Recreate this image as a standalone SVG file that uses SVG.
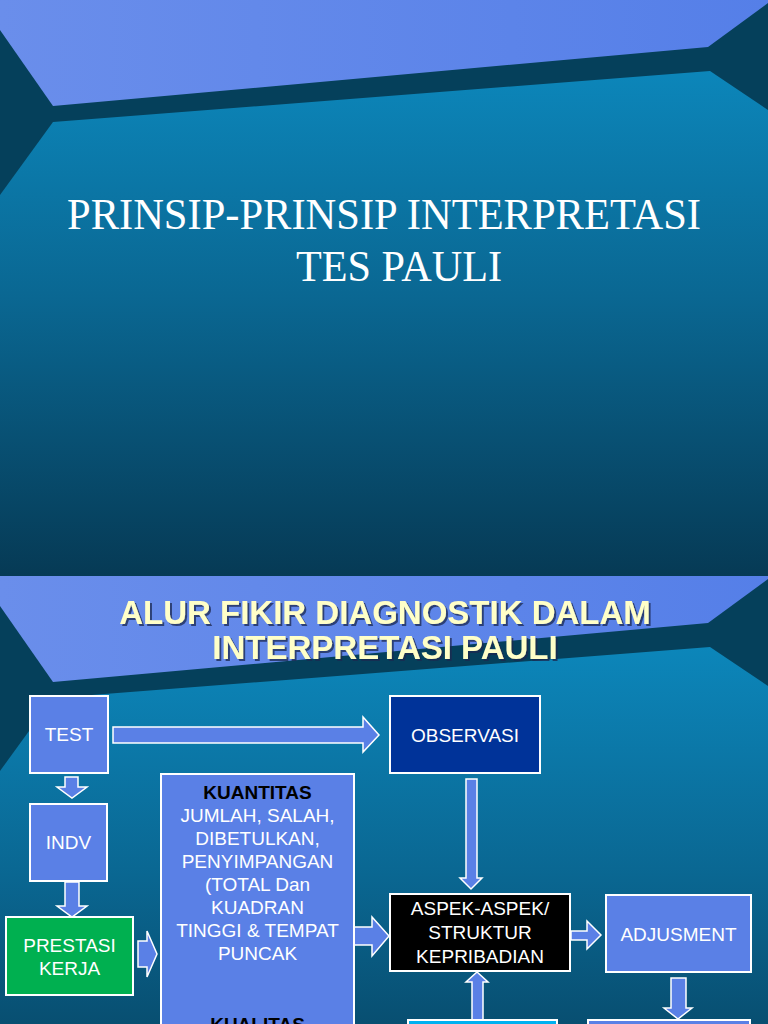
<svg xmlns="http://www.w3.org/2000/svg" width="768" height="1024" viewBox="0 0 768 1024">
<defs>
<linearGradient id="band" x1="0" y1="0" x2="1" y2="0">
<stop offset="0" stop-color="#6A8EEB"/>
<stop offset="1" stop-color="#557FE8"/>
</linearGradient>
<linearGradient id="teal1" gradientUnits="userSpaceOnUse" x1="0" y1="71" x2="0" y2="576">
<stop offset="0" stop-color="#0C86BA"/>
<stop offset="0.45" stop-color="#0A6792"/>
<stop offset="1" stop-color="#063A55"/>
</linearGradient>
<linearGradient id="teal2" gradientUnits="userSpaceOnUse" x1="0" y1="647" x2="0" y2="1152">
<stop offset="0" stop-color="#0C86BA"/>
<stop offset="0.45" stop-color="#0A6792"/>
<stop offset="1" stop-color="#063A55"/>
</linearGradient>
<filter id="shadow" x="-5%" y="-20%" width="110%" height="140%">
<feDropShadow dx="2" dy="2" stdDeviation="0.6" flood-color="#1A2A50" flood-opacity="0.75"/>
</filter>
<style>
.box{stroke:#FFFFFF;stroke-width:2}
.blue{fill:#5A80E6}
.arr{fill:#5A80E6;stroke:#FFFFFF;stroke-width:1.5;stroke-linejoin:miter}
.t{font-family:"Liberation Sans",Arial,sans-serif;font-size:19px;fill:#FFFFFF;text-anchor:middle}
.tb{font-family:"Liberation Sans",Arial,sans-serif;font-size:19px;font-weight:bold;fill:#000000;text-anchor:middle}
.h1{font-family:"Liberation Serif","Times New Roman",serif;font-size:44px;fill:#FFFFFF;text-anchor:middle}
.h2{font-family:"Liberation Sans",Arial,sans-serif;font-size:33px;font-weight:bold;text-anchor:middle;fill:#FFFFC8}
</style>
</defs>
<!-- background -->
<rect x="0" y="0" width="768" height="1024" fill="#05405B"/>
<!-- slide 1 -->
<g id="slide1">
<polygon points="0,0 768,0 768,3 708,47 53,106 0,30" fill="url(#band)"/>
<polygon points="53,122 710,71 768,110 768,576 0,576 0,195" fill="url(#teal1)"/>
<text class="h1" x="384" y="229" textLength="634" lengthAdjust="spacingAndGlyphs">PRINSIP-PRINSIP INTERPRETASI</text>
<text class="h1" x="399" y="281" textLength="206" lengthAdjust="spacingAndGlyphs">TES PAULI</text>
</g>
<!-- slide 2 -->
<g id="slide2">
<polygon points="0,576 768,576 768,579 708,623 53,682 0,606" fill="url(#band)"/>
<polygon points="53,698 710,647 768,686 768,1024 0,1024 0,771" fill="url(#teal2)"/>
<g id="title2" filter="url(#shadow)">
<text class="h2" x="385" y="624">ALUR FIKIR DIAGNOSTIK DALAM</text>
<text class="h2" x="385" y="659">INTERPRETASI PAULI</text>
</g>
</g>
<g id="connectors">
<polygon class="arr" points="113,727 363,727 363,717 379,735 363,752 363,743 113,743"/>
<polygon class="arr" points="65,777 78,777 78,787 87,787 72,798 57,787 65,787"/>
<polygon class="arr" points="65,882 79,882 79,906 87,906 72,917 57,906 65,906"/>
<polygon class="arr" points="138,941 147,941 147,931 157,954 147,977 147,967 138,967"/>
<polygon class="arr" points="354,927 372,927 372,917 389,936 372,956 372,945 354,945"/>
<polygon class="arr" points="466,779 477,779 477,878 482,878 471,889 460,878 466,878"/>
<polygon class="arr" points="571,931 587,931 587,921 601,935 587,949 587,940 571,940"/>
<polygon class="arr" points="671,978 686,978 686,1008 692,1008 678,1019 664,1008 671,1008"/>
<polygon class="arr" points="472,1020 483,1020 483,982 488,982 477,972 466,982 472,982"/>
</g>
<g id="test">
<rect class="box blue" x="30" y="696" width="78" height="77"/>
<text class="t" x="69" y="741">TEST</text>
</g>
<g id="indv">
<rect class="box blue" x="30" y="804" width="77" height="77"/>
<text class="t" x="68.5" y="849">INDV</text>
</g>
<g id="prestasi">
<rect class="box" x="6" y="917" width="127" height="78" fill="#00B050"/>
<text class="t" x="69.5" y="952">PRESTASI</text>
<text class="t" x="69.5" y="975">KERJA</text>
</g>
<g id="kuantitas">
<rect class="box blue" x="161" y="774" width="193" height="270"/>
<text class="tb" x="257.5" y="799">KUANTITAS</text>
<text class="t" x="257.5" y="822">JUMLAH, SALAH,</text>
<text class="t" x="257.5" y="845">DIBETULKAN,</text>
<text class="t" x="257.5" y="868">PENYIMPANGAN</text>
<text class="t" x="257.5" y="891">(TOTAL Dan</text>
<text class="t" x="257.5" y="914">KUADRAN</text>
<text class="t" x="257.5" y="937">TINGGI &amp; TEMPAT</text>
<text class="t" x="257.5" y="960">PUNCAK</text>
<text class="tb" x="257.5" y="1031">KUALITAS</text>
</g>
<g id="observasi">
<rect class="box" x="390" y="696" width="150" height="77" fill="#003399"/>
<text class="t" x="465" y="742">OBSERVASI</text>
</g>
<g id="aspek">
<rect class="box" x="390" y="894" width="180" height="77" fill="#000000"/>
<text class="t" x="480" y="915">ASPEK-ASPEK/</text>
<text class="t" x="480" y="939">STRUKTUR</text>
<text class="t" x="480" y="963">KEPRIBADIAN</text>
</g>
<g id="adjusment">
<rect class="box blue" x="606" y="895" width="145" height="77"/>
<text class="t" x="678.5" y="941">ADJUSMENT</text>
</g>
<g id="bottom-left">
<rect class="box" x="408" y="1020" width="149" height="40" fill="#00B0F0"/>
</g>
<g id="bottom-right">
<rect class="box blue" x="588" y="1020" width="162" height="40"/>
</g>
</svg>
